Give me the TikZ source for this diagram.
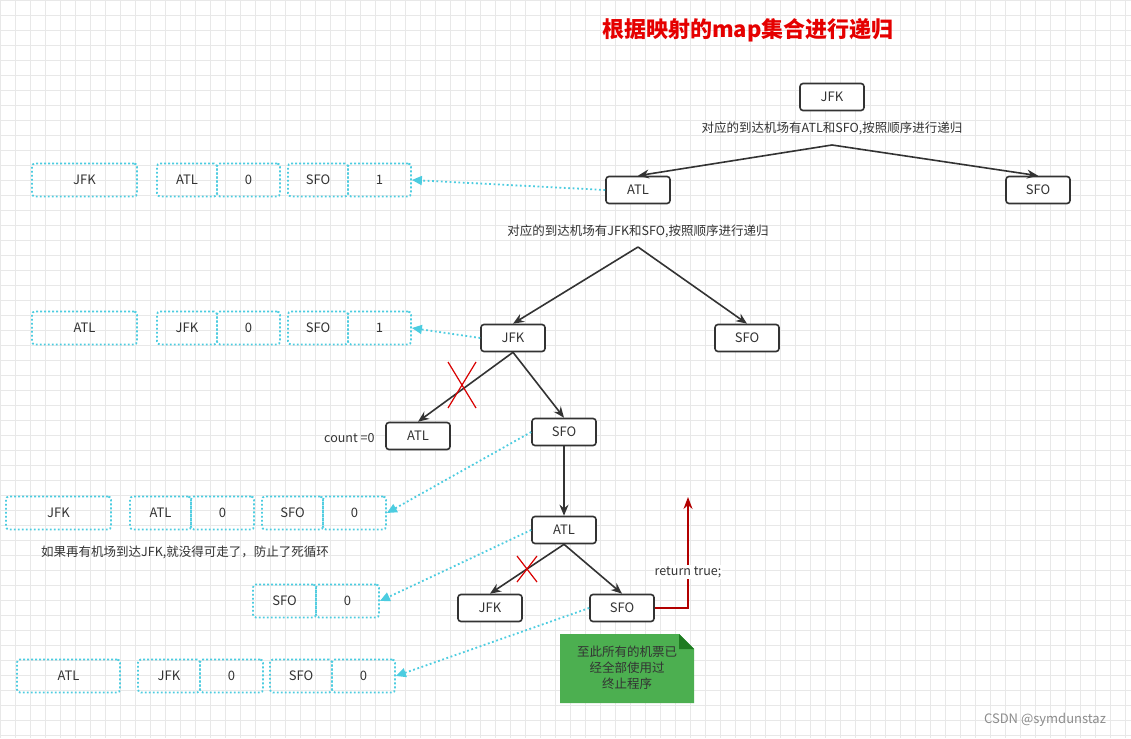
\documentclass[tikz,border=0pt]{standalone}
\usepackage{fontspec}
\setmainfont{Noto Sans CJK SC}
\usetikzlibrary{arrows.meta}
\definecolor{cy}{HTML}{4CCCE0}
\definecolor{dk}{HTML}{333333}
\definecolor{rd}{HTML}{B20000}
\definecolor{gr}{HTML}{4CAF50}
\definecolor{grd}{HTML}{1E7B20}
\begin{document}
\begin{tikzpicture}[x=1pt,y=-1pt,
  every node/.style={font=\fontsize{13}{15}\selectfont, text=dk},
  nb/.style={draw=dk, line width=1.6pt, rounded corners=3pt, minimum width=64pt, minimum height=27pt, inner sep=0pt, fill=white},
  db/.style={draw=cy, line width=1.8pt, dash pattern=on 1.8pt off 2.2pt, rounded corners=3pt, minimum height=33pt, inner sep=0pt},
  ar/.style={draw=dk, line width=1.6pt, -{Stealth[length=11pt,width=9pt]}},
  ca/.style={draw=cy, line width=1.8pt, dash pattern=on 1.8pt off 2.6pt, -{Triangle[length=10pt,width=9pt]}},
  rx/.style={draw=red!85!black, line width=1.2pt},
  lb/.style={font=\fontsize{12.5}{15}\selectfont}
]
\useasboundingbox (0,0) rectangle (1131,738);
\fill[white] (0,0) rectangle (1131,738);
\foreach \i in {0,15,...,1130} \draw[black!9, line width=0.6pt] (\i,0) -- (\i,738);
\foreach \i in {0,15,...,737} \draw[black!9, line width=0.6pt] (0,\i) -- (1131,\i);

\node[font=\bfseries\fontsize{22}{26}\selectfont, text=red!90!black] (title) at (748,30) {根据映射的map集合进行递归};

% tree
\node[nb] (jfk0) at (832,97) {JFK};
\node[lb] (t1) at (832,128) {对应的到达机场有ATL和SFO,按照顺序进行递归};
\coordinate (s1) at (832,145);
\node[nb] (atl1) at (638,190) {ATL};
\node[nb] (sfo1) at (1038,190) {SFO};
\draw[ar] (s1) -- (atl1.north);
\draw[ar] (s1) -- (sfo1.north);
\node[lb] (t2) at (638,231) {对应的到达机场有JFK和SFO,按照顺序进行递归};
\coordinate (s2) at (638,247);
\node[nb] (jfk2) at (513,338) {JFK};
\node[nb] (sfo2) at (747,338) {SFO};
\draw[ar] (s2) -- (jfk2.north);
\draw[ar] (s2) -- (sfo2.north);
\node[nb] (atl3) at (418,436) {ATL};
\node[nb] (sfo3) at (564,432) {SFO};
\draw[ar] (jfk2.south) -- (atl3.north);
\draw[ar] (jfk2.south) -- (sfo3.north);
\node[lb,anchor=east] (cnt) at (378,438) {count =0};
\node[nb] (atl4) at (564,530) {ATL};
\draw[ar] (sfo3.south) -- (atl4.north);
\node[nb] (jfk5) at (490,608) {JFK};
\node[nb] (sfo5) at (622,608) {SFO};
\draw[ar] (atl4.south) -- (jfk5.north);
\draw[ar] (atl4.south) -- (sfo5.north);

% red crosses
\draw[rx] (448,362) -- (476,408); \draw[rx] (448,408) -- (476,362);
\draw[rx] (517,556) -- (537,582); \draw[rx] (517,582) -- (537,556);

% return
\coordinate (rt) at (688,497);
\draw[draw=rd, line width=1.6pt, -{Stealth[length=12pt,width=9pt]}] (sfo5.east) -- (688,608) -- (rt);
\node[lb, fill=white, inner sep=1pt] (ret) at (688,572) {return true;};

% note
\fill[gr] (560,634) -- (679,634) -- (694,649) -- (694,703) -- (560,703) -- cycle;
\fill[grd] (679,634) -- (694,649) -- (679,649) -- cycle;
\node[lb, align=center, font=\fontsize{12.5}{16}\selectfont] (note) at (627,668) {至此所有的机票已\\经全部使用过\\终止程序};

% dotted rows
\node[db, minimum width=105pt] (a1) at (84.5,180) {JFK};
\node[db, minimum width=60pt] (a2) at (187,180) {ATL};
\node[db, minimum width=63pt] (a3) at (248.5,180) {0};
\node[db, minimum width=60pt] (a4) at (318,180) {SFO};
\node[db, minimum width=63pt] (a5) at (379.5,180) {1};
\draw[ca] (atl1.west) -- (a5.east);

\node[db, minimum width=105pt] (b1) at (84.5,328) {ATL};
\node[db, minimum width=60pt] (b2) at (187,328) {JFK};
\node[db, minimum width=63pt] (b3) at (248.5,328) {0};
\node[db, minimum width=60pt] (b4) at (318,328) {SFO};
\node[db, minimum width=63pt] (b5) at (379.5,328) {1};
\draw[ca] (jfk2.west) -- (b5.east);

\node[db, minimum width=105pt] (c1) at (58.5,513) {JFK};
\node[db, minimum width=61pt] (c2) at (160.5,513) {ATL};
\node[db, minimum width=63pt] (c3) at (222.5,513) {0};
\node[db, minimum width=61pt] (c4) at (292.5,513) {SFO};
\node[db, minimum width=63pt] (c5) at (354.5,513) {0};
\draw[ca] (sfo3.west) -- (c5.east);
\node[lb] (loop) at (185,552) {如果再有机场到达JFK,就没得可走了，防止了死循环};

\node[db, minimum width=63pt] (d1) at (284.5,601) {SFO};
\node[db, minimum width=63pt] (d2) at (347.5,601) {0};
\draw[ca] (atl4.west) -- (d2.east);

\node[db, minimum width=103pt] (e1) at (68.5,676) {ATL};
\node[db, minimum width=62pt] (e2) at (169,676) {JFK};
\node[db, minimum width=63pt] (e3) at (231.5,676) {0};
\node[db, minimum width=62pt] (e4) at (301,676) {SFO};
\node[db, minimum width=63pt] (e5) at (363.5,676) {0};
\draw[ca] (sfo5.west) -- (e5.east);

\node[text=black!45, font=\fontsize{13}{15}\selectfont] (wm) at (1045,720) {CSDN @symdunstaz};
\end{tikzpicture}
\end{document}
